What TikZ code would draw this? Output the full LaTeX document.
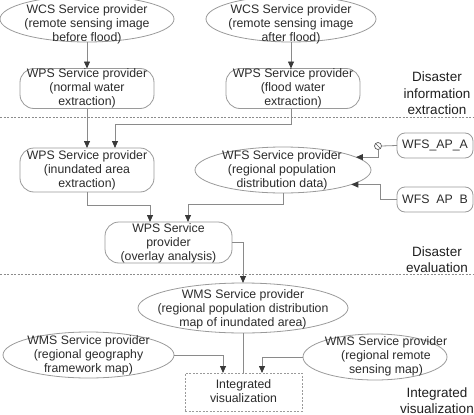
\documentclass[tikz,border=0pt]{standalone}
\usepackage{fontspec}
\setmainfont{Liberation Sans}
\usetikzlibrary{arrows.meta,shapes.geometric}
\definecolor{linegray}{HTML}{8A8A8A}
\definecolor{bordergray}{HTML}{9A9A9A}
\definecolor{txtgray}{HTML}{2B2B2B}
\definecolor{tipgray}{HTML}{3A3A3A}
\begin{document}
\begin{tikzpicture}[x=1pt,y=-1pt,
  every node/.style={inner sep=0pt, outer sep=0pt},
  txt/.style={text=txtgray, align=center, font=\fontsize{12.3}{14}\selectfont},
  lbl/.style={text=black!88, align=center, font=\fontsize{13.5}{16.5}\selectfont},
  oval/.style={ellipse, draw=bordergray, line width=0.8pt},
  rbox/.style={rectangle, rounded corners=14pt, draw=bordergray, line width=0.8pt},
  sbox/.style={rectangle, rounded corners=8pt, draw=bordergray, line width=0.8pt},
  dbox/.style={rectangle, draw=bordergray, line width=0.7pt, dash pattern=on 2pt off 1.5pt},
  conn/.style={draw=linegray, line width=0.8pt},
  arr/.style={conn, -{Triangle[width=6pt,length=7pt,color=tipgray]}},
  sepline/.style={draw=black!45, dash pattern=on 2pt off 1.5pt, line width=0.6pt}
]
\useasboundingbox (0,0) rectangle (474,415);

% separators
\coordinate (s1a) at (0,117.5); \coordinate (s1b) at (474,117.5);
\coordinate (s2a) at (0,274);   \coordinate (s2b) at (474,274);
\draw[sepline] (s1a) -- (s1b);
\draw[sepline] (s2a) -- (s2b);

% shapes
\node[oval, minimum width=174pt, minimum height=46pt] (wcsA) at (87,19) {};
\node[txt] (wcsAt) at (87,24) {WCS Service provider\\(remote sensing image\\before flood)};
\node[oval, minimum width=170pt, minimum height=46pt] (wcsB) at (291,19) {};
\node[txt] (wcsBt) at (291,24) {WCS Service provider\\(remote sensing image\\after flood)};

\node[rbox, minimum width=134pt, minimum height=40pt] (wpsA) at (87,88.5) {};
\node[txt] (wpsAt) at (87,88.5) {WPS Service provider\\(normal water\\extraction)};
\node[rbox, minimum width=134pt, minimum height=40pt] (wpsB) at (293,88.5) {};
\node[txt] (wpsBt) at (293,88.5) {WPS Service provider\\(flood water\\extraction)};

\node[rbox, minimum width=134pt, minimum height=44pt] (wpsC) at (87,170) {};
\node[txt] (wpsCt) at (87,170.5) {WPS Service provider\\(inundated area\\extraction)};

\node[oval, minimum width=176pt, minimum height=46pt] (wfs) at (283,170) {};
\node[txt] (wfst) at (282,170) {WFS Service provider\\(regional population\\distribution data)};

\node[sbox, minimum width=76pt, minimum height=25pt] (apA) at (435,145.5) {};
\node[txt] (apAt) at (435,145.5) {WFS\_AP\_A};
\node[sbox, minimum width=76pt, minimum height=25pt] (apB) at (435,199.5) {};
\node[txt] (apBt) at (435,199.5) {WFS\hphantom{\_}AP\hphantom{\_}B};

\node[circle, draw=black!65, line width=0.7pt, minimum size=7pt] (nog) at (378,146) {};
\draw[black!65, line width=0.7pt] (nog.135) -- (nog.-45);

\node[rbox, minimum width=127pt, minimum height=41pt] (ovl) at (168.5,242.5) {};
\node[txt] (ovlt) at (168.5,243.5) {WPS Service\\provider\\(overlay analysis)};

\node[oval, minimum width=210pt, minimum height=50pt] (wmsP) at (243,308) {};
\node[txt] (wmsPt) at (243,309.5) {WMS Service provider\\(regional population distribution\\map of inundated area)};

\node[oval, minimum width=171pt, minimum height=46pt] (wmsG) at (88.5,355) {};
\node[txt] (wmsGt) at (88.5,355.5) {WMS Service provider\\(regional geography\\framework map)};

\node[oval, minimum width=144pt, minimum height=46pt] (wmsR) at (375,357) {};
\node[txt] (wmsRt) at (386,356) {WMS Service provider\\(regional remote\\sensing map)};

\node[dbox, minimum width=117pt, minimum height=38pt] (integ) at (243.5,392) {};
\node[txt] (integt) at (243.5,391) {Integrated\\visualization};

% side labels
\node[lbl] (l1) at (437,93.5) {Disaster\\information\\extraction};
\node[lbl] (l2) at (437,259.5) {Disaster\\evaluation};
\node[lbl] (l3) at (437,400.5) {Integrated\\visualization};

% connectors
\draw[arr] (wcsA.south) -- (wpsA.north);
\draw[arr] (wcsB.south) -- (wcsB.south |- wpsB.north);
\draw[arr] (wpsA.south) -- (wpsC.north);
\draw[arr] (wcsB.south |- wpsB.south) -- ++(0,16) -| ([xshift=28pt]wpsC.north);
\draw[arr] (wpsC.south) -- ++(0,13) -| ([xshift=-18.5pt]ovl.north);
\draw[arr] (wfs.south) -- ++(0,11) -| ([xshift=19.5pt]ovl.north);
\draw[conn] (apA.west) -- (nog.east);
\draw[arr] (nog.south) |- (wfs.10);
\draw[arr] (apB.west) -- ++(-17,0) |- (wfs.-12);
\draw[arr] (ovl.east) -| (wmsP.north);
\draw[conn] (wmsP.south) -- (wmsP.south |- integ.north);
\draw[arr] (wmsG.east) -| ([xshift=-20.5pt]integ.north);
\draw[arr] (wmsR.west) -| ([xshift=18.5pt]integ.north);
\end{tikzpicture}
\end{document}
